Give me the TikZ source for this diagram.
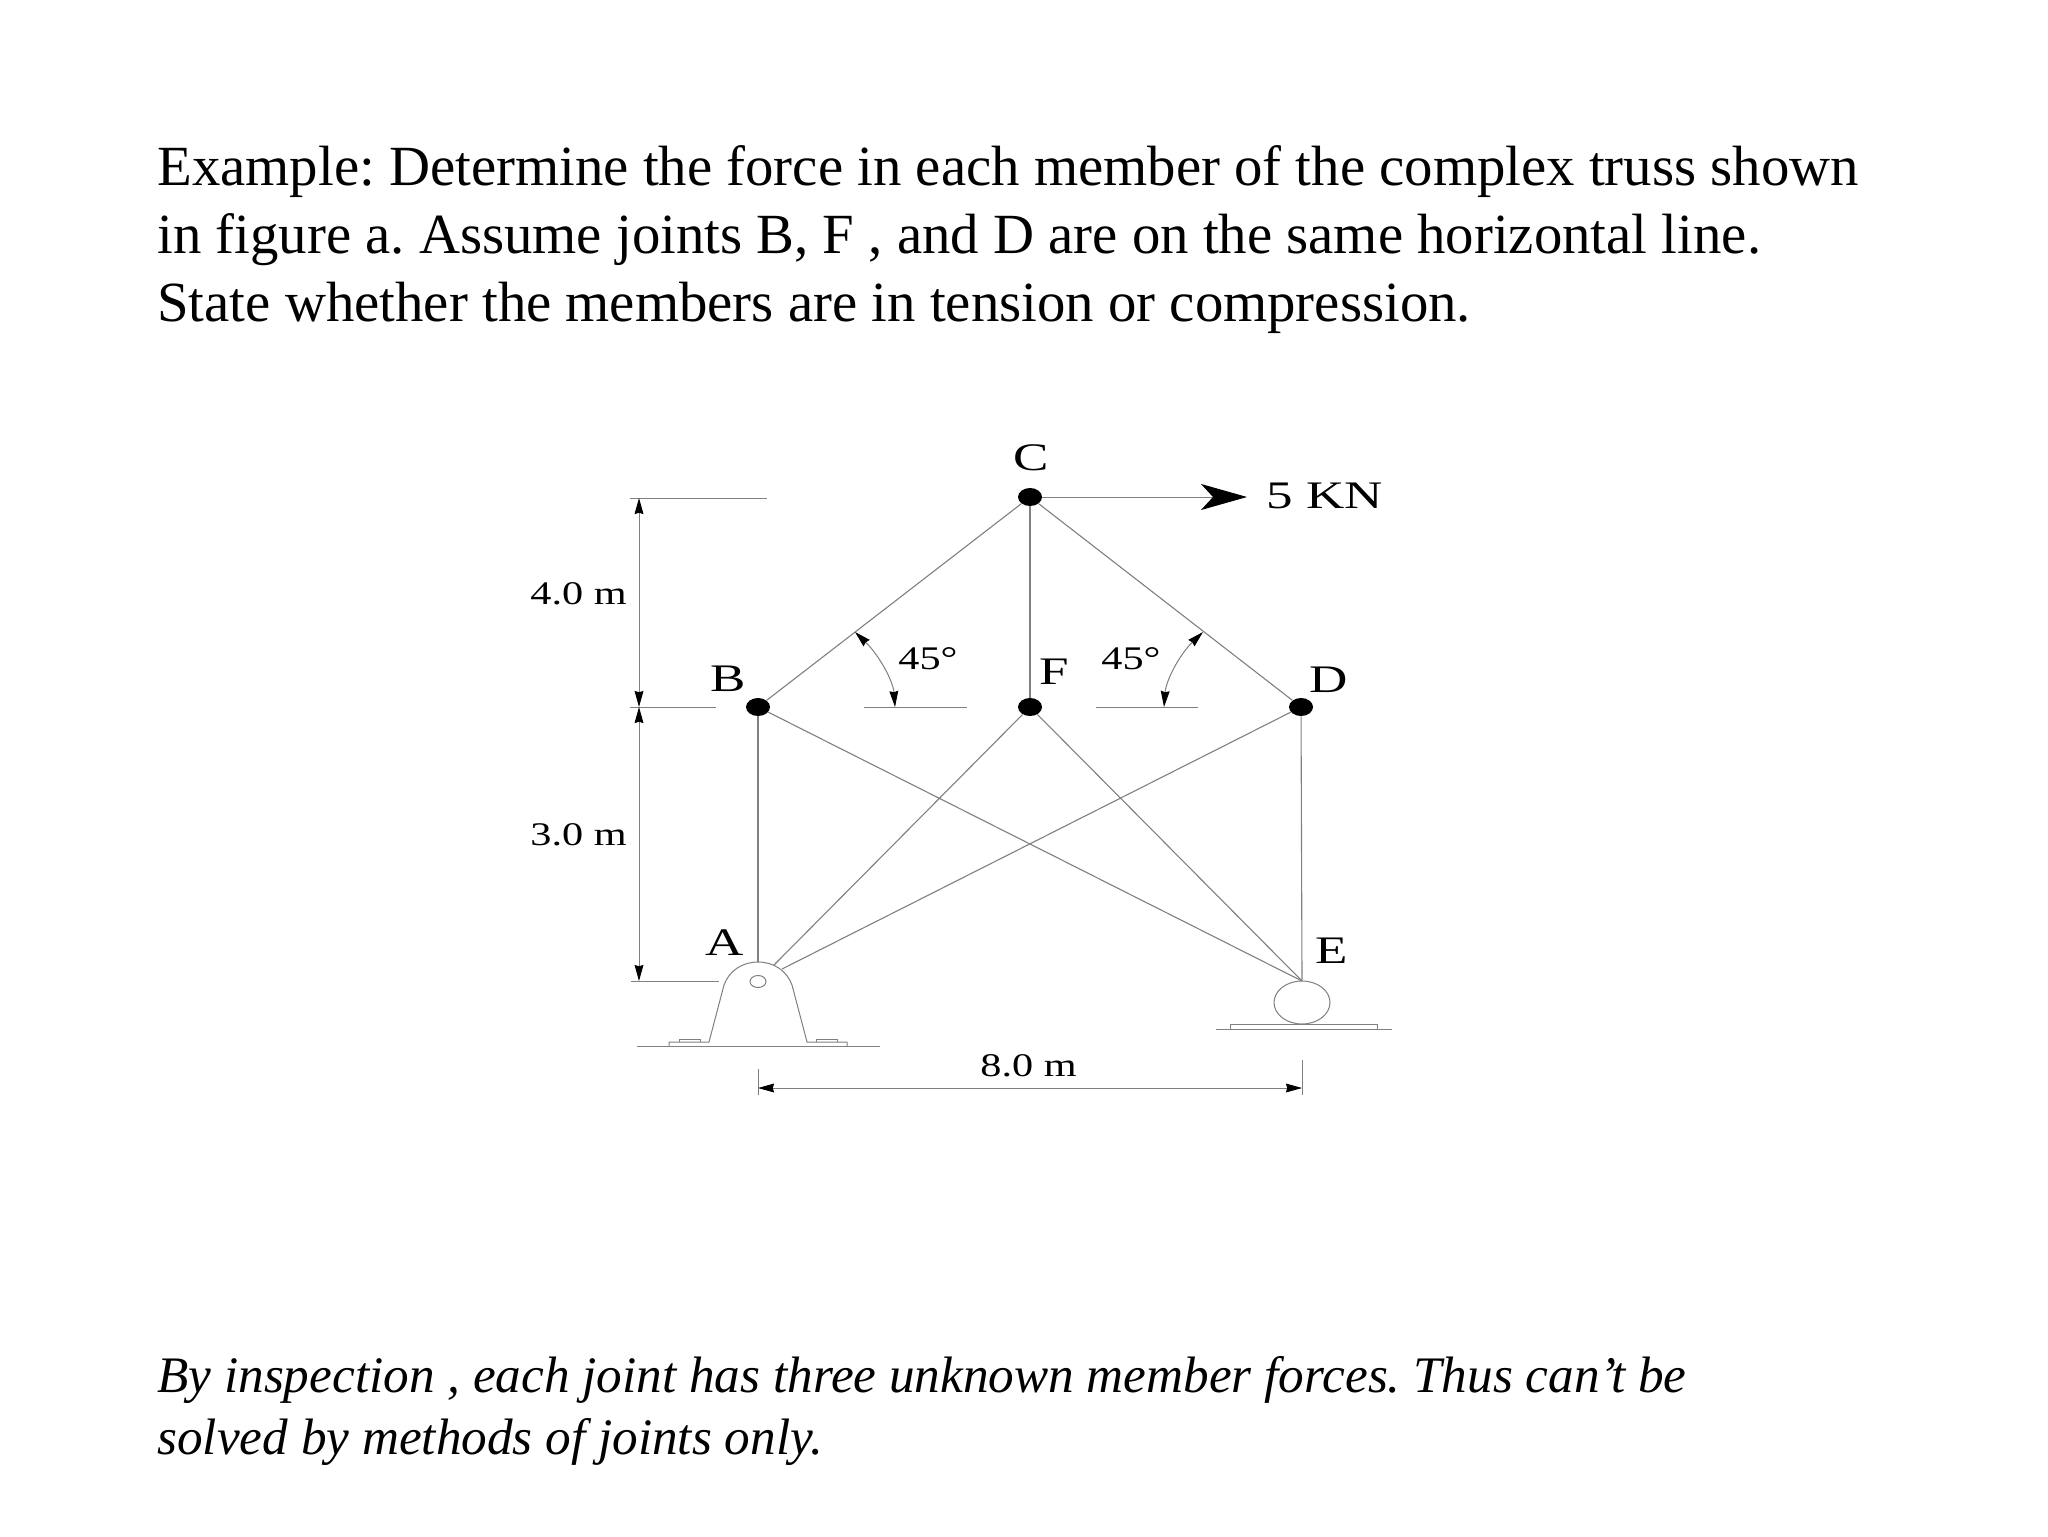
\documentclass[tikz,border=0pt]{standalone}
\usepackage{fontspec}
\setmainfont{Liberation Serif}
\newfontfamily\lblfont[FakeStretch=1.36]{Liberation Serif}
\newfontfamily\numfont[FakeStretch=1.28]{Liberation Serif}
\usetikzlibrary{arrows.meta,shapes.geometric}
\definecolor{linegray}{gray}{0.5}
\frenchspacing
\tikzset{
  x=0.5pt,y=-0.5pt,
  member/.style={draw=linegray,line width=0.55pt},
  thin part/.style={draw=linegray,line width=0.5pt},
  joint/.style={ellipse,fill=black,draw=none,minimum width=12pt,minimum height=9pt,inner sep=0pt},
  dimline/.style={thin part,{Stealth[length=8pt,width=4.4pt,inset=0.6pt,color=black]}-{Stealth[length=8pt,width=4.4pt,inset=0.6pt,color=black]}},
  lbl/.style={anchor=base,inner sep=0pt,font=\lblfont\fontsize{19.5}{22}\selectfont},
  num/.style={anchor=base west,inner sep=0pt,font=\numfont\fontsize{16.5}{20}\selectfont},
  head/.style={anchor=base west,inner sep=0pt,font=\fontsize{28.39}{32}\selectfont},
  ital/.style={anchor=base west,inner sep=0pt,font=\itshape\fontsize{25.6}{30}\selectfont},
}
\begin{document}
\begin{tikzpicture}
\path[use as bounding box,fill=white] (0,0) rectangle (2048,1536);
% text
\node[head] (h1) at (157,185) {Example: Determine the force in each member of the complex truss shown};
\node[head] (h2) at (157,253) {in figure a. Assume joints B, F , and D are on the same horizontal line.};
\node[head] (h3) at (157,321) {State whether the members are in tension or compression.};
\node[ital] (i1) at (157,1392) {By inspection , each joint has three unknown member forces. Thus can’t be};
\node[ital] (i2) at (157,1454) {solved by methods of joints only.};
% joints
\node[joint] (B) at (758,707) {};
\node[joint] (C) at (1030,497) {};
\node[joint] (F) at (1030,707) {};
\node[joint] (D) at (1301,707) {};
\coordinate (A1) at (758,962);
\coordinate (A2) at (774,965);
\coordinate (A3) at (782,969);
\coordinate (E0) at (1302,981);
% members
\draw[member] (C) -- (B);
\draw[member] (C) -- (F);
\draw[member] (C) -- (D);
\draw[member] (B) -- (A1);
\draw[member] (F) -- (A2);
\draw[member] (D) -- (A3);
\draw[member] (B) -- (E0);
\draw[member] (F) -- (E0);
\draw[member] (D) -- (E0);
% pin support
\draw[thin part,line join=round] (669,1046) -- (669,1042) -- (709,1042) -- (724,985)
  .. controls (729,971) and (742,962) .. (A1)
  .. controls (774,962) and (787,971) .. (792,985)
  -- (807,1042) -- (847,1042) -- (847,1046);
\node[ellipse,thin part,inner sep=0pt,minimum height=6pt,minimum width=8pt] (pin) at (758,981.5) {};
\draw[thin part] (679,1042) -- (679,1039) -- (700,1039) -- (700,1042);
\draw[thin part] (816,1042) -- (816,1039) -- (837,1039) -- (837,1042);
\coordinate (g1) at (637,1046);
\coordinate (g2) at (880,1046);
\draw[thin part] (g1) -- (g2);
% roller support
\node[ellipse,thin part,minimum width=28pt,minimum height=21.5pt,inner sep=0pt] (roller) at (1302,1002.5) {};
\draw[thin part] (1230,1029) -- (1230,1024) -- (1377,1024) -- (1377,1029);
\coordinate (g3) at (1216,1029);
\coordinate (g4) at (1392,1029);
\draw[thin part] (g3) -- (g4);
% left dimensions
\coordinate (t1) at (630,498);
\coordinate (t2) at (767,498);
\coordinate (m1) at (630,707);
\coordinate (m2) at (716,707);
\coordinate (b1) at (631,981);
\coordinate (b2) at (719,981);
\draw[thin part] (t1) -- (t2);
\draw[thin part] (m1) -- (m2);
\draw[thin part] (b1) -- (b2);
\coordinate (v1) at (639,498);
\coordinate (v2) at (639,707);
\coordinate (v3) at (639,981);
\draw[dimline] (v1) -- (v2);
\draw[dimline] (v2) -- (v3);
% bottom dimension
\coordinate (l1) at (758,1069);
\coordinate (l2) at (758,1095);
\coordinate (r1) at (1302,1060);
\coordinate (r2) at (1302,1095);
\draw[thin part] (l1) -- (l2);
\draw[thin part] (r1) -- (r2);
\coordinate (hl) at (758,1088);
\coordinate (hr) at (1302,1088);
\draw[dimline] (hl) -- (hr);
% load
\coordinate (P) at (1247,497);
\draw[thin part,-{Stealth[length=23pt,width=13pt,inset=6pt,color=black]}] (C) -- (P);
% angle marks
\coordinate (la) at (864,707);
\coordinate (lb) at (967,707);
\coordinate (ra) at (1096,707);
\coordinate (rb) at (1198,707);
\draw[thin part] (la) -- (lb);
\draw[thin part] (ra) -- (rb);
\coordinate (ls) at (855,632);
\coordinate (le) at (895,707);
\coordinate (rs) at (1203,632);
\coordinate (re) at (1164,707);
\draw[dimline] (ls) .. controls (878,654) and (893,680) .. (le);
\draw[dimline] (rs) .. controls (1180,654) and (1166,680) .. (re);
% labels
\node[lbl] (lC) at (1031,470) {C};
\node[lbl] (lB) at (728,691) {B};
\node[lbl] (lF) at (1054,684) {F};
\node[lbl] (lD) at (1329,692) {D};
\node[lbl] (lA) at (725,955) {A};
\node[lbl] (lE) at (1332,963) {E};
\node[lbl,anchor=base west] (lP) at (1266,508) {5 KN};
\node[num] (a1) at (898,669) {45°};
\node[num] (a2) at (1101,669) {45°};
\node[num] (d1) at (530,604) {4.0 m};
\node[num] (d2) at (530,845) {3.0 m};
\node[num] (d3) at (980,1076) {8.0 m};
\end{tikzpicture}
\end{document}
